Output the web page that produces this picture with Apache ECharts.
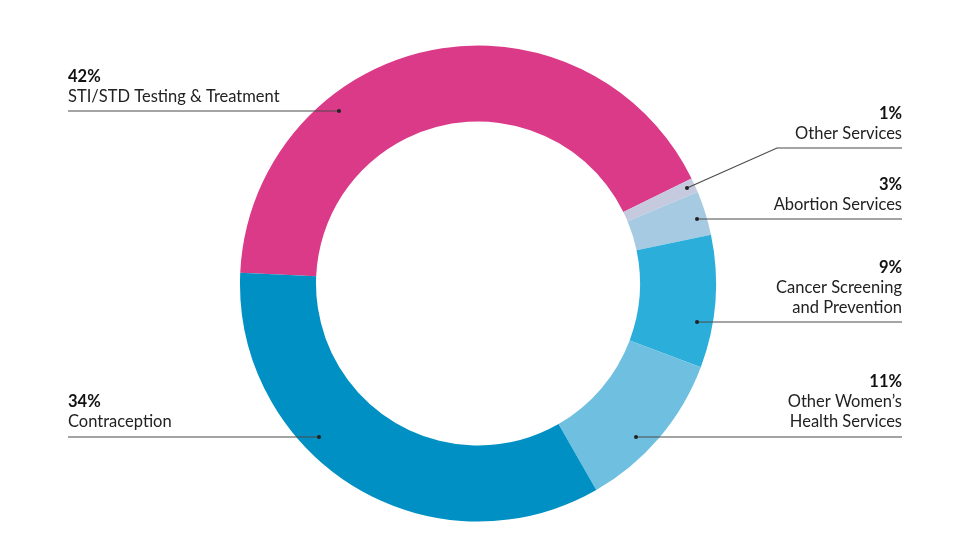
<!DOCTYPE html>
<html>
<head>
<meta charset="utf-8">
<script src="https://cdn.jsdelivr.net/npm/echarts@6/dist/echarts.min.js"></script>
<style>
  html, body { margin: 0; padding: 0; background: #fff; }
  #chart { width: 980px; height: 536px; }
</style>
</head>
<body>
<div id="chart"></div>
<script>
const categories = [
  'STI/STD Testing & Treatment',
  'Other Services',
  'Abortion Services',
  'Cancer Screening\nand Prevention',
  'Other Women\u2019s\nHealth Services',
  'Contraception'
];
const shares = [42, 1, 3, 9, 11, 34];
const colors = ['#DA3A87', '#C5CADF', '#A5CAE2', '#2BAEDA', '#6FC0E0', '#0090C4'];

// label placement: text anchor, leader line (dot -> elbow -> end)
const labelSpots = [
  { x: 68, y: 107, align: 'left', line: [[339, 111], [68, 111], [68, 111]] },
  { x: 902, y: 144, align: 'right', line: [[687, 188], [777, 148], [902, 148]] },
  { x: 902, y: 215, align: 'right', line: [[697, 219], [800, 219], [902, 219]] },
  { x: 902, y: 318, align: 'right', line: [[697, 322], [800, 322], [902, 322]] },
  { x: 902, y: 432, align: 'right', line: [[636, 437], [800, 437], [902, 437]] },
  { x: 68, y: 432, align: 'left', line: [[319, 437], [68, 437], [68, 437]] }
];

const font = 'Lato, "Open Sans", sans-serif';

function labelText(value, name) {
  const lines = name.split('\n').map(line => `{n|${line}}`);
  return [`{p|${value}%}`].concat(lines).join('\n');
}

const chart = echarts.init(document.getElementById('chart'));

chart.setOption({
  backgroundColor: '#ffffff',
  animation: false,
  series: [
    {
      name: 'share',
      type: 'pie',
      z: 2,
      center: [478, 283.5],
      radius: [162, 238],
      startAngle: 177.4,
      clockwise: true,
      avoidLabelOverlap: false,
      emphasis: { disabled: true },
      itemStyle: { borderWidth: 0 },
      label: {
        show: true,
        position: 'outside',
        fontFamily: font,
        formatter: params => labelText(params.value, params.name),
        rich: {
          p: { fontFamily: font, fontSize: 16.5, fontWeight: 'bold', color: '#111', lineHeight: 20 },
          n: { fontFamily: font, fontSize: 16.5, color: '#222', lineHeight: 20 }
        }
      },
      labelLine: { show: false },
      labelLayout: params => {
        const spot = labelSpots[params.dataIndex];
        return { x: spot.x, y: spot.y, align: spot.align, verticalAlign: 'bottom' };
      },
      data: categories.map((name, i) => ({
        name,
        value: shares[i],
        itemStyle: { color: colors[i] },
        label: { align: labelSpots[i].align }
      }))
    },
    {
      // leader lines and their end dots, drawn above the ring
      name: 'leaders',
      type: 'pie',
      z: 10,
      center: [478, 283.5],
      radius: [162, 238],
      startAngle: 177.4,
      silent: true,
      avoidLabelOverlap: false,
      emphasis: { disabled: true },
      itemStyle: { color: 'rgba(0,0,0,0)' },
      label: {
        show: true,
        position: 'outside',
        formatter: '{d|}',
        rich: {
          d: { width: 4, height: 4, borderRadius: 2, backgroundColor: '#222' }
        }
      },
      labelLine: {
        show: true,
        smooth: false,
        lineStyle: { color: '#4a4a4a', width: 1.2 }
      },
      labelLayout: params => {
        const spot = labelSpots[params.dataIndex];
        return {
          x: spot.line[0][0],
          y: spot.line[0][1],
          align: 'center',
          verticalAlign: 'middle',
          labelLinePoints: spot.line
        };
      },
      data: categories.map((name, i) => ({ name, value: shares[i] }))
    }
  ]
});
</script>
</body>
</html>
